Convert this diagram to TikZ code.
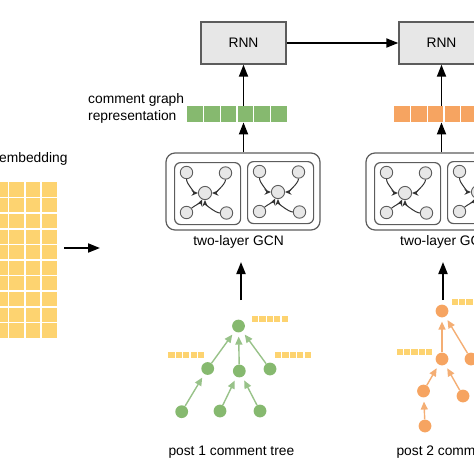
\documentclass[tikz,border=0pt]{standalone}
\usepackage{fontspec}
\setmainfont{Liberation Sans}
\usetikzlibrary{arrows.meta,calc}
\definecolor{ylw}{HTML}{FDD370}
\definecolor{grn}{HTML}{86B96F}
\definecolor{grnl}{HTML}{98C289}
\definecolor{org}{HTML}{F6A461}
\definecolor{orgl}{HTML}{F4AE74}
\definecolor{boxfill}{HTML}{E7E7E7}
\definecolor{boxline}{HTML}{5C5C5C}
\definecolor{darkarr}{HTML}{333333}
\tikzset{
  txt/.style={font=\fontsize{13.8}{16}\selectfont, inner sep=0pt},
  rnnbox/.style={draw=boxline, fill=boxfill, line width=1.3pt, minimum width=85pt, minimum height=42pt, inner sep=0pt, font=\fontsize{13.8}{16}\selectfont},
  arr/.style={line width=1.8pt, -{Triangle[length=12pt,width=9pt]}},
  gcnouter/.style={draw=boxline, line width=1.2pt, rounded corners=9pt, minimum width=154pt, minimum height=77pt, inner sep=0pt},
  gcninner/.style={draw=boxline, line width=1.2pt, rounded corners=6pt, minimum width=66pt, minimum height=62pt, inner sep=0pt, anchor=north west},
  gc/.style={circle, draw=boxline, fill=boxfill, line width=0.9pt, minimum size=12.4pt, inner sep=0pt},
  gcc/.style={gc, minimum size=13.2pt},
  ga/.style={draw=darkarr, line width=1pt, -{Stealth[length=6.5pt,width=5.5pt]}},
  tn/.style={circle, fill=#1, minimum size=12.8pt, inner sep=0pt},
  te/.style={draw=#1, line width=1.4pt, -{Triangle[length=8pt,width=7pt]}, shorten >=4pt},
  barnode/.style={minimum width=100pt, minimum height=16pt, inner sep=0pt, anchor=north west},
  gcnin/.pic={
    \node[gcninner] (-box) at (0,0) {};
    \node[gc] (-tl) at (12.5,10.5) {};
    \node[gc] (-tr) at (51.5,11) {};
    \node[gcc] (-c) at (31,31) {};
    \node[gc] (-bl) at (12.5,50.5) {};
    \node[gc] (-br) at (52.5,51) {};
    \draw[ga] (-tl) .. controls +(0,12) and +(-9,0) .. (-c);
    \draw[ga] (-tr) .. controls +(0,12) and +(9,0) .. (-c);
    \draw[ga] (-bl) .. controls +(7,-6) and +(-4,9) .. (-c);
    \draw[ga] (-br) .. controls +(-11,0) and +(0,11) .. (-c);
  },
  minibar/.pic={
    \foreach \i in {0,...,4} \fill[ylw] (\i*7.4,-3) rectangle +(6.2,6);
  }
}
\begin{document}
\begin{tikzpicture}[x=1pt,y=-1pt]
\useasboundingbox (0,0) rectangle (474,474);

% embedding grid
\fill[ylw] (-10,182) rectangle (57,338);
\foreach \cx in {8.3,24.7,41.1} \draw[white, line width=1.6pt] (\cx,182) -- (\cx,338);
\foreach \k in {1,...,9} \draw[white, line width=1.6pt] (-10,182+\k*15.6) -- (57,182+\k*15.6);
\node[txt, anchor=base west] (emb) at (-1,162) {embedding};
\coordinate (ea) at (64,248);
\coordinate (eb) at (100,248);
\draw[arr] (ea) -- (eb);

% RNNs
\node[rnnbox] (rnn1) at (243.5,43) {RNN};
\node[rnnbox] (rnn2) at (441.5,43) {RNN};
\draw[arr] (rnn1.east) -- (rnn2.west);

% representation bars
\node[barnode] (bar1) at (187,106) {};
\foreach \i in {0,...,5} \fill[grn] (187+\i*16.84,106) rectangle +(15.8,16);
\node[barnode] (bar2) at (394,106) {};
\foreach \i in {0,...,5} \fill[org] (394+\i*16.84,106) rectangle +(15.8,16);
\node[txt, anchor=base west] (cg1) at (88,103.5) {comment graph};
\node[txt, anchor=base west] (cg2) at (88,120) {representation};

% GCN blocks
\node[gcnouter] (gcn1) at (243,191.5) {};
\pic (g1a) at (174,162) {gcnin};
\pic (g1b) at (247,161) {gcnin};
\node[gcnouter] (gcn2) at (443,191.5) {};
\pic (g2a) at (374,162) {gcnin};
\pic (g2b) at (447,161) {gcnin};
\node[txt, anchor=base] (l1) at (238.5,245) {two-layer GCN};
\node[txt, anchor=base west] (l2) at (400,245) {two-layer GCN};

\draw[arr] (gcn1.north -| rnn1.south) -- (bar1.south -| rnn1.south);
\draw[arr] (bar1.north -| rnn1.south) -- (rnn1.south);
\draw[arr] (gcn2.north -| rnn2.south) -- (bar2.south -| rnn2.south);
\draw[arr] (bar2.north -| rnn2.south) -- (rnn2.south);

% tree 1
\node[tn=grn] (a0) at (238.5,326) {};
\node[tn=grn] (a1) at (207.7,368.5) {};
\node[tn=grn] (a2) at (239.3,371) {};
\node[tn=grn] (a3) at (270,369) {};
\node[tn=grn] (a4) at (181.7,411.7) {};
\node[tn=grn] (a5) at (220,411) {};
\node[tn=grn] (a6) at (260,411) {};
\draw[te=grnl] (a1) -- (a0);
\draw[te=grnl] (a2) -- (a0);
\draw[te=grnl] (a3) -- (a0);
\draw[te=grnl] (a4) -- (a1);
\draw[te=grnl] (a5) -- (a2);
\draw[te=grnl] (a6) -- (a2);
\pic at (252,319) {minibar};
\pic at (168.3,355) {minibar};
\pic at (275,355) {minibar};
\coordinate (t1s) at (241,300);
\coordinate (t1e) at (241,262);
\draw[arr] (t1s) -- (t1e);
\node[txt, anchor=base west] (p1) at (168.3,455) {post 1 comment tree};

% tree 2
\node[tn=org] (b0) at (442,311) {};
\node[tn=org] (b1) at (442,359) {};
\node[tn=org] (b2) at (471,359) {};
\node[tn=org] (b3) at (423.5,391) {};
\node[tn=org] (b4) at (463,396) {};
\node[tn=org] (b5) at (425,426) {};
\draw[te=orgl] (b1) -- (b0);
\draw[te=orgl] (b2) -- (b0);
\draw[te=orgl] (b3) -- (b1);
\draw[te=orgl] (b4) -- (b1);
\draw[te=orgl] (b5) -- (b3);
\pic at (451.6,302) {minibar};
\pic at (396.5,352) {minibar};
\coordinate (t2s) at (443,300);
\coordinate (t2e) at (443,262);
\draw[arr] (t2s) -- (t2e);
\node[txt, anchor=base west] (p2) at (396.3,455) {post 2 comment tree};
\end{tikzpicture}
\end{document}
